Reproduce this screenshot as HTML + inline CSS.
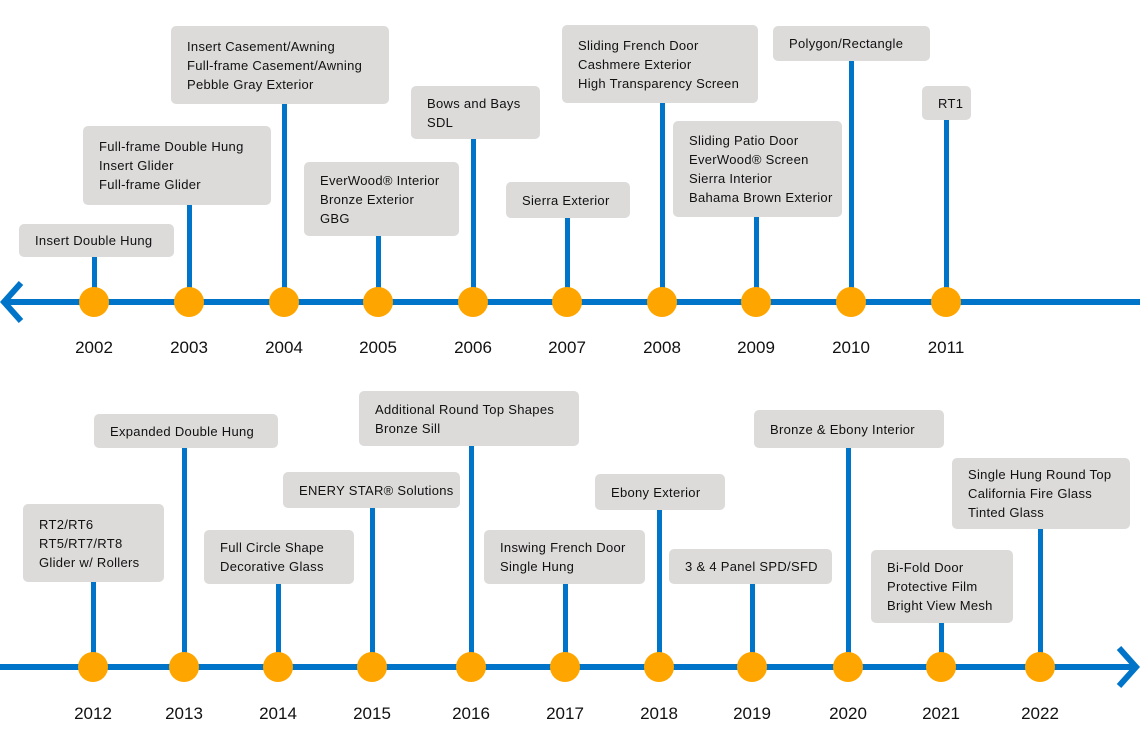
<!DOCTYPE html>
<html><head><style>
body{margin:0;width:1140px;height:753px;background:#fff;position:relative;overflow:hidden;font-family:"Liberation Sans",sans-serif;}
.b{position:absolute;background:#dcdbda;border-radius:5px;box-sizing:border-box;padding:0 16px;font-size:13px;line-height:19px;color:#111;display:flex;flex-direction:column;justify-content:center;letter-spacing:0.3px;white-space:nowrap}
.s{position:absolute;width:5px;background:#0074c8}
.l{position:absolute;height:6px;background:#0074c8}
.c{position:absolute;width:30px;height:30px;border-radius:50%;background:#ffa500}
.y{position:absolute;width:60px;text-align:center;font-size:17px;color:#111}
</style></head><body>
<div class="l" style="left:6px;top:299px;width:1134px"></div>
<div class="l" style="left:0;top:664px;width:1134px"></div>
<svg style="position:absolute;left:0;top:0" width="1140" height="753">
<polyline points="21,283 4,302 21,321" fill="none" stroke="#0074c8" stroke-width="6"/>
<polyline points="1119,648 1136,667 1119,686" fill="none" stroke="#0074c8" stroke-width="6"/>
</svg>
<div id="r"></div>
<script>
(function(){
var rowA=[[94,19,224,155,33,["Insert Double Hung"],2002],[189,83,126,188,79,["Full-frame Double Hung","Insert Glider","Full-frame Glider"],2003],[284,171,26,218,78,["Insert Casement/Awning","Full-frame Casement/Awning","Pebble Gray Exterior"],2004],[378,304,162,155,74,["EverWood® Interior","Bronze Exterior","GBG"],2005],[473,411,86,129,53,["Bows and Bays","SDL"],2006],[567,506,182,124,36,["Sierra Exterior"],2007],[662,562,25,196,78,["Sliding French Door","Cashmere Exterior","High Transparency Screen"],2008],[756,673,121,169,96,["Sliding Patio Door","EverWood® Screen","Sierra Interior","Bahama Brown Exterior"],2009],[851,773,26,157,35,["Polygon/Rectangle"],2010],[946,922,86,49,34,["RT1"],2011]];
var rowB=[[93,23,504,141,78,["RT2/RT6","RT5/RT7/RT8","Glider w/ Rollers"],2012],[184,94,414,184,34,["Expanded Double Hung"],2013],[278,204,530,150,54,["Full Circle Shape","Decorative Glass"],2014],[372,283,472,177,36,["ENERY STAR® Solutions"],2015],[471,359,391,220,55,["Additional Round Top Shapes","Bronze Sill"],2016],[565,484,530,161,54,["Inswing French Door","Single Hung"],2017],[659,595,474,130,36,["Ebony Exterior"],2018],[752,669,549,163,35,["3 &amp; 4 Panel SPD/SFD"],2019],[848,754,410,190,38,["Bronze &amp; Ebony Interior"],2020],[941,871,550,142,73,["Bi-Fold Door","Protective Film","Bright View Mesh"],2021],[1040,952,458,178,71,["Single Hung Round Top","California Fire Glass","Tinted Glass"],2022]];
var h="";
function row(a,ly,yy){a.forEach(function(d){
h+='<div class="s" style="left:'+(d[0]-2.5)+'px;top:'+(d[2]+d[4]-2)+'px;height:'+(ly-d[2]-d[4]+2)+'px"></div>';
h+='<div class="b" style="left:'+d[1]+'px;top:'+d[2]+'px;width:'+d[3]+'px;height:'+d[4]+'px">'+d[5].map(function(t){return '<div>'+t+'</div>'}).join('')+'</div>';
h+='<div class="c" style="left:'+(d[0]-15)+'px;top:'+(ly-15)+'px"></div>';
h+='<div class="y" style="left:'+(d[0]-30)+'px;top:'+yy+'px">'+d[6]+'</div>';});}
row(rowA,302,338);row(rowB,667,704);
document.getElementById("r").innerHTML=h;
})();
</script>
</body></html>
